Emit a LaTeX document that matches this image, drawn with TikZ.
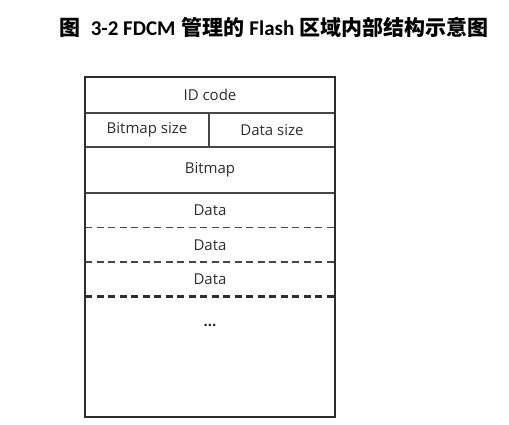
\documentclass[tikz,border=0pt]{standalone}
\usepackage{fontspec}
\usepackage{xcolor}
\usepackage{tikz}
\usetikzlibrary{positioning}
\setmainfont{Open Sans}
\newfontfamily\titlelatin{Carlito}
\newfontfamily\cjk{Noto Sans CJK SC}
\definecolor{framegray}{RGB}{45,45,45}
\definecolor{linegray}{RGB}{70,70,70}
\definecolor{textgray}{RGB}{45,45,45}
\newcommand{\fieldfont}{\fontsize{15}{17}\selectfont}

\begin{document}
\begin{tikzpicture}[
  x=1pt, y=-1pt,
  field/.style={
    rectangle, draw=linegray, line width=1.1pt,
    inner sep=0pt, outer sep=0pt,
    font=\fieldfont, text=textgray
  },
  datarow/.style={
    rectangle, inner sep=0pt, outer sep=0pt,
    minimum width=250pt, minimum height=34.5pt,
    font=\fieldfont, text=textgray
  },
  sep/.style={dash pattern=on 7pt off 4.5pt, line width=1.7pt, color=linegray},
  lastsep/.style={sep, line width=2.4pt, color=framegray},
  frame/.style={draw=framegray, line width=1.8pt},
  title/.style={font=\fontsize{21}{24}\selectfont\bfseries, text=black}
]
\useasboundingbox (0,0) rectangle (509,425);

\node[title] (caption) at (274,27)
  {{\cjk\bfseries 图}\hspace{0.5em}{\titlelatin\bfseries 3-2 FDCM} {\cjk\bfseries 管理的} {\titlelatin\bfseries Flash} {\cjk\bfseries 区域内部结构示意图}};

% header fields
\node[field, minimum width=250pt, minimum height=36pt] (idcode) at (210,95) {ID code};
\node[field, anchor=north west, minimum width=124pt, minimum height=34pt] (bmsize) at (idcode.south west) {Bitmap size};
\node[field, anchor=north west, minimum width=126pt, minimum height=34pt] (dsize) at (bmsize.north east) {Data size};
\node[field, anchor=north west, minimum width=250pt, minimum height=46pt] (bitmap) at (bmsize.south west) {Bitmap};

% data records
\node[datarow, below=0pt of bitmap] (data1) {Data};
\node[datarow, below=0pt of data1] (data2) {Data};
\node[datarow, below=0pt of data2] (data3) {Data};
\node[font=\fieldfont\bfseries, text=textgray, below=24pt of data3] (dots) {...};

\draw[sep] (data1.south west) -- (data1.south east);
\draw[sep] (data2.south west) -- (data2.south east);
\draw[lastsep] (data3.south west) -- (data3.south east);

\coordinate (base) at (335,417);
\draw[frame] (idcode.north west) rectangle (base);

\end{tikzpicture}
\end{document}
